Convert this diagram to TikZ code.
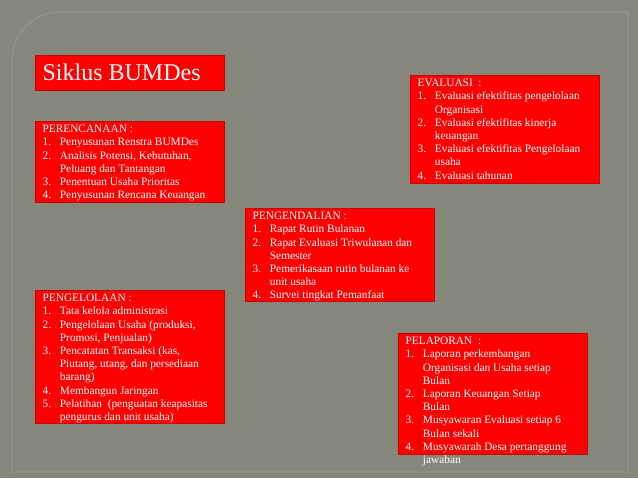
\documentclass[tikz,border=0pt]{standalone}
\usepackage{fontspec}
\setmainfont{Liberation Serif}
\newcommand{\itm}[2]{\par\hangindent=13pt\hangafter=1\noindent\makebox[13pt][l]{#1.}#2}
\newcommand{\bx}[3]{\parbox[t][#1][t]{131pt}{\fontsize{8.5}{9.9}\selectfont\raggedright\rightskip=#2 plus 1fil #3}}
\definecolor{bg}{HTML}{848779}
\begin{document}
\begin{tikzpicture}[x=0.75pt,y=-0.75pt,
  box/.style={fill=red,draw=red!80!black,line width=0.4pt,anchor=north west,inner xsep=5.5pt,inner ysep=3pt,text=white}]
\fill[bg] (0,0) rectangle (638,478);
\useasboundingbox (0,0) rectangle (638,478);
\draw[bg!88!white,line width=0.8pt] (628,12) -- (628,472) -- (12,472) -- (12,60) arc[start angle=180,end angle=270,radius=48] -- cycle;
\node[box,inner ysep=4pt] (title) at (35,55) {\parbox[t][18pt][c]{131pt}{\fontsize{18}{20}\selectfont Siklus BUMDes}};
\node[box] (ren) at (35,121) {\bx{55pt}{4pt}{PERENCANAAN :
\itm{1}{Penyusunan Renstra BUMDes}
\itm{2}{Analisis Potensi, Kebutuhan, Peluang dan Tantangan}
\itm{3}{Penentuan Usaha Prioritas}
\itm{4}{Penyusunan Rencana Keuangan}}};
\node[box] (eva) at (410,75) {\bx{75pt}{9pt}{EVALUASI~ :
\itm{1}{Evaluasi efektifitas pengelolaan Organisasi}
\itm{2}{Evaluasi efektifitas kinerja keuangan}
\itm{3}{Evaluasi efektifitas Pengelolaan usaha}
\itm{4}{Evaluasi tahunan}}};
\node[box] (pen) at (245,208) {\bx{64pt}{9pt}{PENGENDALIAN :
\itm{1}{Rapat Rutin Bulanan}
\itm{2}{Rapat Evaluasi Triwulanan dan Semester}
\itm{3}{Pemerikasaan rutin bulanan ke unit usaha}
\itm{4}{Survei tingkat Pemanfaat}}};
\node[box] (pgl) at (35,290) {\bx{94pt}{4pt}{PENGELOLAAN :
\itm{1}{Tata kelola administrasi}
\itm{2}{Pengelolaan Usaha (produksi, Promosi, Penjualan)}
\itm{3}{Pencatatan Transaksi (kas, Piutang, utang, dan persediaan barang)}
\itm{4}{Membangun Jaringan}
\itm{5}{Pelatihan~ (penguatan keapasitas pengurus dan unit usaha)}}};
\node[box] (lap) at (398,333) {\bx{85pt}{10pt}{PELAPORAN~ :
\itm{1}{Laporan perkembangan Organisasi dan Usaha setiap Bulan}
\itm{2}{Laporan Keuangan Setiap Bulan}
\itm{3}{Musyawaran Evaluasi setiap 6 Bulan sekali}
\itm{4}{Musyawarah Desa pertanggung jawaban}}};
\end{tikzpicture}
\end{document}
